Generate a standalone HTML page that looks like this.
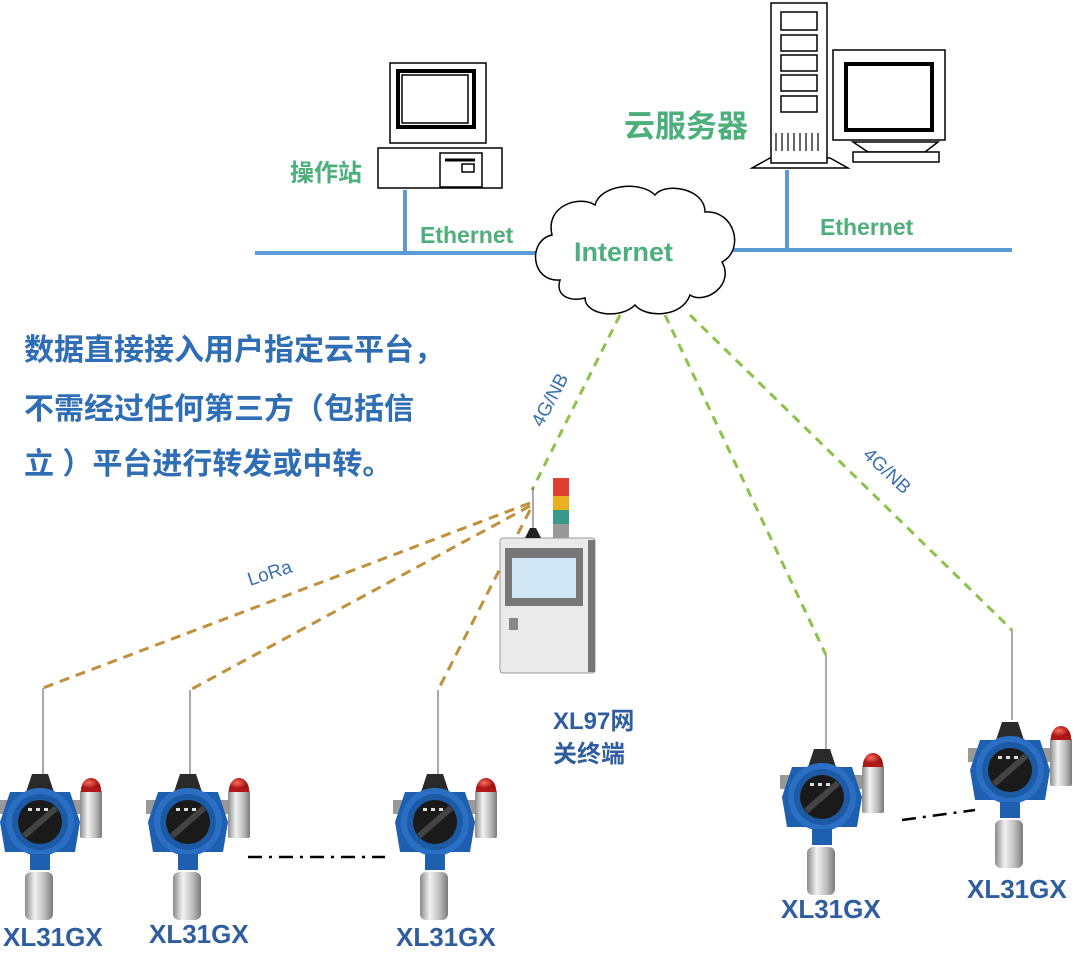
<!DOCTYPE html>
<html><head><meta charset="utf-8"><style>
body{margin:0;background:#fff;}
svg{display:block;font-family:"Liberation Sans","Noto Sans CJK SC",sans-serif;}
</style></head><body>
<svg width="1080" height="953" viewBox="0 0 1080 953" xmlns="http://www.w3.org/2000/svg">
<defs>
<linearGradient id="steel" x1="0" x2="1"><stop offset="0" stop-color="#8a8a8a"/><stop offset=".35" stop-color="#f2f2f2"/><stop offset=".7" stop-color="#bdbdbd"/><stop offset="1" stop-color="#7a7a7a"/></linearGradient>
<radialGradient id="red" cx=".4" cy=".4"><stop offset="0" stop-color="#ff6a5a"/><stop offset="1" stop-color="#a01010"/></radialGradient>
<g id="dev">
<path d="M-8,-48 L8,-48 L14,-30 L-14,-30 Z" fill="#2a2a2a"/>
<rect x="-15" y="50" width="28" height="48" rx="6" fill="url(#steel)"/>
<rect x="-42" y="-22" width="12" height="14" fill="#999"/>
<rect x="30" y="-22" width="12" height="14" fill="#999"/>
<path d="M-30,-30 L30,-30 L40,0 L35,30 L-35,30 L-40,0 Z" fill="#1f5fb0"/>
<circle cx="0" cy="0" r="34" fill="#2a6fc4"/>
<circle cx="0" cy="0" r="28" fill="#1d5aa6"/>
<circle cx="0" cy="0" r="22" fill="#1a1a1a"/>
<path d="M-16,14 L16,-14" stroke="#444" stroke-width="6"/>
<rect x="-12" y="-14" width="4" height="3" fill="#ddd"/><rect x="-4" y="-14" width="4" height="3" fill="#ddd"/><rect x="4" y="-14" width="4" height="3" fill="#ddd"/>
<rect x="-10" y="32" width="20" height="16" fill="#1f5fb0"/>
<rect x="40" y="-32" width="22" height="48" rx="2" fill="url(#steel)"/>
<path d="M41,-32 A10,12 0 0 1 61,-32 Z" fill="url(#red)"/>
<rect x="41" y="-34" width="20" height="4" fill="#b01818"/>
</g>
</defs>

<g stroke="#5b9bd5" stroke-width="4">
<line x1="255" y1="253" x2="540" y2="253"/>
<line x1="405" y1="190" x2="405" y2="253"/>
<line x1="730" y1="250" x2="1012" y2="250"/>
<line x1="787" y1="170" x2="787" y2="250"/>
</g>

<g fill="#fff" stroke="#000" stroke-width="1.5">
<rect x="390" y="63" width="96" height="80"/>
<rect x="398" y="71" width="76" height="56" stroke-width="4"/>
<rect x="402" y="75" width="66" height="48"/>
<rect x="378" y="148" width="124" height="40"/>
<rect x="440" y="153" width="42" height="34"/>
<line x1="445" y1="160" x2="475" y2="160" stroke-width="3"/>
<rect x="462" y="164" width="12" height="8"/>
</g>

<g fill="#fff" stroke="#000" stroke-width="1.5">
<path d="M752,168 L770,158 L830,158 L848,168 Z"/>
<rect x="771" y="3" width="56" height="160"/>
<rect x="781" y="12" width="36" height="18"/>
<rect x="781" y="35" width="36" height="16"/>
<rect x="781" y="55" width="36" height="16"/>
<rect x="781" y="75" width="36" height="16"/>
<rect x="781" y="96" width="36" height="16"/>
<g stroke-width="1.2"><path d="M776,133v18M782,133v18M788,133v18M794,133v18M800,133v18M806,133v18M812,133v18M818,133v18"/></g>
<rect x="833" y="50" width="112" height="90"/>
<rect x="846" y="64" width="86" height="66" stroke-width="4"/>
<path d="M853,142 L938,142 L925,152 L868,152 Z"/>
<rect x="853" y="152" width="86" height="10"/>
</g>

<path d="M560,280 C530,282 528,240 552,235 C545,205 580,195 595,205 C600,185 640,180 655,195 C665,182 705,188 705,212 C735,210 745,250 722,262 C735,285 705,305 690,295 C682,318 645,318 635,305 C620,320 585,315 585,298 C570,302 555,296 560,280 Z" fill="#fff" stroke="#000" stroke-width="1.5"/>

<g stroke="#8bc34a" stroke-width="3" stroke-dasharray="9,7" fill="none">
<line x1="620" y1="315" x2="532" y2="490"/>
<line x1="665" y1="315" x2="826" y2="655"/>
<line x1="690" y1="315" x2="1012" y2="630"/>
</g>
<g stroke="#c0913a" stroke-width="3" stroke-dasharray="10,7" fill="none">
<line x1="530" y1="503" x2="43" y2="688"/>
<line x1="530" y1="506" x2="190" y2="690"/>
<line x1="530" y1="510" x2="438" y2="690"/>
</g>

<g stroke="#555" stroke-width="1">
<line x1="43" y1="688" x2="43" y2="775"/>
<line x1="190" y1="690" x2="190" y2="775"/>
<line x1="438" y1="690" x2="438" y2="775"/>
<line x1="826" y1="655" x2="826" y2="750"/>
<line x1="1012" y1="630" x2="1012" y2="720"/>
<line x1="533" y1="488" x2="533" y2="535"/>
</g>

<rect x="500" y="538" width="95" height="135" rx="3" fill="#eaeaea" stroke="#999"/>
<rect x="588" y="540" width="7" height="132" fill="#777"/>
<rect x="505" y="548" width="78" height="58" fill="#777"/>
<rect x="512" y="558" width="64" height="40" fill="#cfe6f5"/>
<rect x="509" y="618" width="9" height="12" fill="#888"/>
<rect x="553" y="478" width="16" height="18" fill="#e04030"/>
<rect x="553" y="496" width="16" height="14" fill="#e8b020"/>
<rect x="553" y="510" width="16" height="14" fill="#3a9a8a"/>
<rect x="553" y="524" width="16" height="14" fill="#999"/>
<path d="M525,538 L541,538 L536,528 L530,528 Z" fill="#222"/>

<use href="#dev" x="40" y="822"/>
<use href="#dev" x="188" y="822"/>
<use href="#dev" x="435" y="822"/>
<use href="#dev" x="822" y="797"/>
<use href="#dev" x="1010" y="770"/>

<g stroke="#000" stroke-width="2.5" stroke-dasharray="14,7,3,7">
<line x1="248" y1="857" x2="385" y2="857"/>
<line x1="902" y1="820" x2="975" y2="810"/>
</g>

<g font-weight="bold" fill="#4caf7c">
<text x="290" y="181" font-size="24">操作站</text>
<text x="624" y="137" font-size="31">云服务器</text>
<text x="420" y="243" font-size="23">Ethernet</text>
<text x="820" y="235" font-size="23">Ethernet</text>
<text x="574" y="261" font-size="27">Internet</text>
</g>
<g font-weight="bold" fill="#2f6db5" font-size="30">
<text x="24" y="360">数据直接接入用户指定云平台，</text>
<text x="24" y="419">不需经过任何第三方（包括信</text>
<text x="24" y="474">立 ）平台进行转发或中转。</text>
</g>
<g fill="#3a6fb0" font-size="19">
<text x="250" y="586" transform="rotate(-18 250 586)">LoRa</text>
<text x="542" y="428" transform="rotate(-62 542 428)">4G/NB</text>
<text x="862" y="456" transform="rotate(43 862 456)">4G/NB</text>
</g>
<g font-weight="bold" fill="#2f5d9e" font-size="26">
<text x="553" y="729" font-size="24">XL97网</text>
<text x="553" y="762" font-size="24">关终端</text>
<text x="3" y="946">XL31GX</text>
<text x="149" y="943">XL31GX</text>
<text x="396" y="946">XL31GX</text>
<text x="781" y="918">XL31GX</text>
<text x="967" y="898">XL31GX</text>
</g>
</svg>
</body></html>
